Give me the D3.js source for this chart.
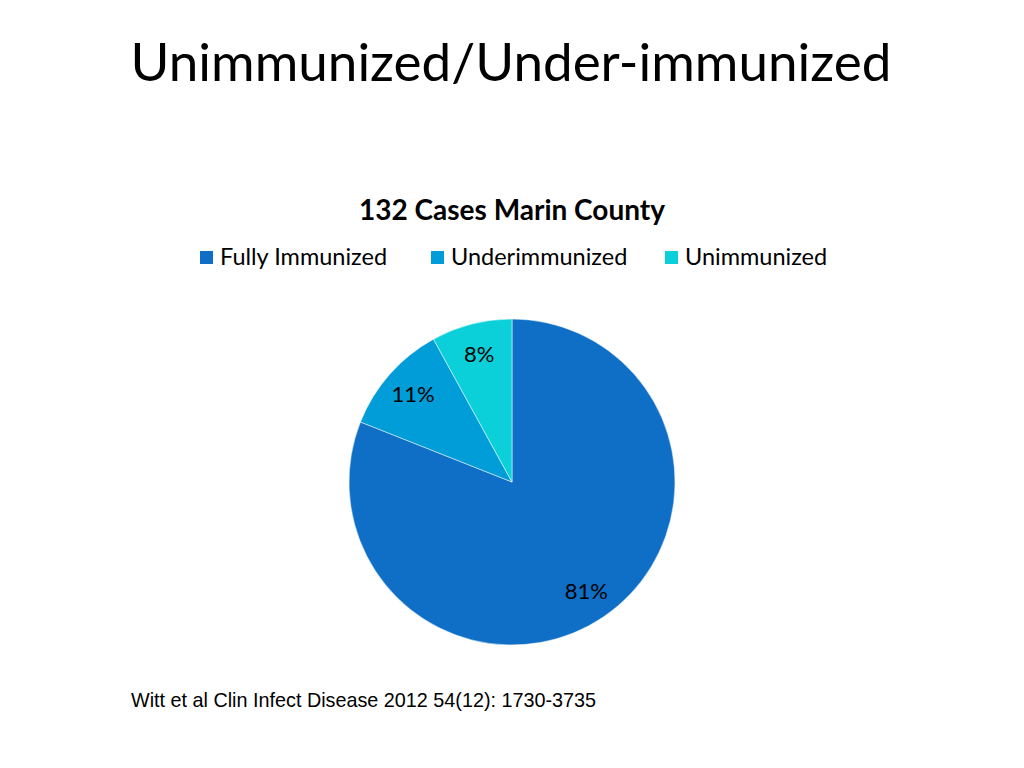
<!DOCTYPE html>
<html>
<head>
<meta charset="utf-8">
<script src="https://cdn.jsdelivr.net/npm/d3@7"></script>
<style>
  body { margin: 0; background: #fff; }
  svg { display: block; }
</style>
</head>
<body>
<div id="wrapper"></div>
<script>
/* DATA */
const categories = ['Fully Immunized', 'Underimmunized', 'Unimmunized'];
const shares = [81, 11, 8];
const colors = ['#0f6fc6', '#009dd9', '#0bd0d9'];

const slideTitle = 'Unimmunized/Under-immunized';
const chartTitle = '132 Cases Marin County';
const source = 'Witt et al Clin Infect Disease 2012 54(12): 1730-3735';

/* DIMENSIONS */
const dimensions = {
  width: 1024,
  height: 768,
  cx: 512,
  cy: 482,
  radius: 163,
};

const font = 'Lato, "Open Sans", sans-serif';

const wrapper = d3
  .select('#wrapper')
  .append('svg')
  .attr('width', dimensions.width)
  .attr('height', dimensions.height);

// slide title
wrapper
  .append('text')
  .text(slideTitle)
  .attr('x', dimensions.width / 2 - 1)
  .attr('y', 81)
  .attr('text-anchor', 'middle')
  .attr('fill', '#000')
  .style('font-family', font)
  .style('font-size', '53px');

// chart title
wrapper
  .append('text')
  .text(chartTitle)
  .attr('x', dimensions.width / 2)
  .attr('y', 220)
  .attr('text-anchor', 'middle')
  .attr('fill', '#000')
  .style('font-family', font)
  .style('font-weight', 'bold')
  .style('font-size', '28px');

/* LEGEND */
const colorScale = d3.scaleOrdinal().domain(categories).range(colors);
const legendX = d3.scaleOrdinal().domain(categories).range([200, 431, 665]);

const legendItems = wrapper
  .append('g')
  .selectAll('g')
  .data(categories)
  .join('g')
  .attr('transform', d => `translate(${legendX(d)}, 251)`);

legendItems
  .append('rect')
  .attr('width', 13)
  .attr('height', 13)
  .attr('fill', d => colorScale(d));

legendItems
  .append('text')
  .text(d => d)
  .attr('x', 20)
  .attr('y', 14)
  .attr('fill', '#000')
  .style('font-family', font)
  .style('font-size', '23.5px');

/* PIE */
const pie = d3.pie().sort(null).value(d => d.value);
const arcs = pie(categories.map((c, i) => ({ name: c, value: shares[i] })));

const arc = d3.arc().innerRadius(0).outerRadius(dimensions.radius);
const labelArc = d3.arc().innerRadius(dimensions.radius * 0.81).outerRadius(dimensions.radius * 0.81);

const bounds = wrapper
  .append('g')
  .attr('transform', `translate(${dimensions.cx}, ${dimensions.cy})`);

bounds
  .selectAll('path')
  .data(arcs)
  .join('path')
  .attr('d', arc)
  .attr('fill', d => colorScale(d.data.name))
  .attr('stroke', '#fff')
  .attr('stroke-width', 0.5);

bounds
  .selectAll('text')
  .data(arcs)
  .join('text')
  .attr('transform', d => `translate(${labelArc.centroid(d)})`)
  .attr('text-anchor', 'middle')
  .attr('dy', '0.35em')
  .attr('fill', '#000')
  .style('font-family', font)
  .style('font-size', '22px')
  .text(d => `${d.data.value}%`);

// source note
wrapper
  .append('text')
  .text(source)
  .attr('x', 131)
  .attr('y', 707)
  .attr('fill', '#000')
  .style('font-family', '"Liberation Sans", Arial, sans-serif')
  .style('font-size', '19.8px');
</script>
</body>
</html>
